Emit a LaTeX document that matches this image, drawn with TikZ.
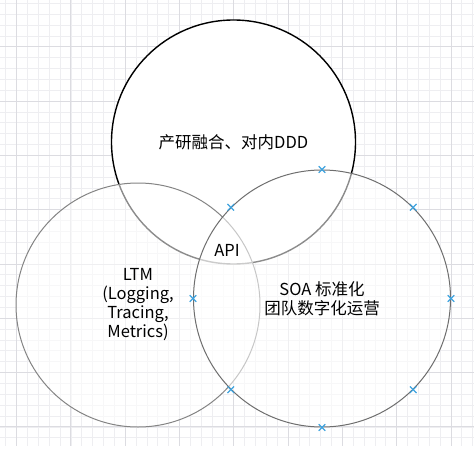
\documentclass[tikz,border=0pt]{standalone}
\usepackage{fontspec}
\setmainfont{Noto Sans CJK SC}
\usetikzlibrary{shapes.misc}
\definecolor{gridminor}{HTML}{EEEEF1}
\definecolor{gridmajor}{HTML}{DCDCE1}
\definecolor{ringgray}{HTML}{6E6E6E}
\definecolor{xblue}{HTML}{3FA4E0}
\begin{document}
\begin{tikzpicture}[x=1pt,y=-1pt,
    ring/.style={circle,draw=ringgray,line width=1pt,fill=white,fill opacity=.55,text opacity=1,align=center,inner sep=0pt},
    xmk/.style={cross out,draw=xblue,line width=1.1pt,minimum size=5.5pt,inner sep=0pt},
    lbl/.style={align=center,font=\fontsize{16.5}{19}\selectfont}]
\useasboundingbox (0,0) rectangle (474,460);
\fill[white] (0,0) rectangle (474,460);
% grid
\foreach \i in {0,...,43}\draw[gridminor,line width=.6pt](5.64+10.86*\i,0)--(5.64+10.86*\i,446);
\foreach \j in {0,...,40}\draw[gridminor,line width=.6pt](0,3.26+10.86*\j)--(474,3.26+10.86*\j);
\foreach \i in {0,...,8}\draw[gridmajor,line width=.7pt](16.5+54.3*\i,0)--(16.5+54.3*\i,446);
\foreach \j in {0,...,7}\draw[gridmajor,line width=.7pt](0,46.7+54.3*\j)--(474,46.7+54.3*\j);

\node[circle,draw=black,line width=1.4pt,fill=white,minimum size=244pt,inner sep=0pt,lbl] (ddd) at (233.5,142) {产研融合、对内DDD};
\node[ring,minimum size=244pt,lbl,draw=ringgray!85] (ltm) at (138,305) {LTM\\(Logging,\\Tracing,\\Metrics)};
\node[ring,minimum size=257pt,lbl] (soa) at (322,298.5) {SOA 标准化\\团队数字化运营};
\node[lbl] (api) at (227,250) {API};

\foreach \a in {0,45,...,315}\node[xmk] (x\a) at (soa.\a) {};
\end{tikzpicture}
\end{document}
